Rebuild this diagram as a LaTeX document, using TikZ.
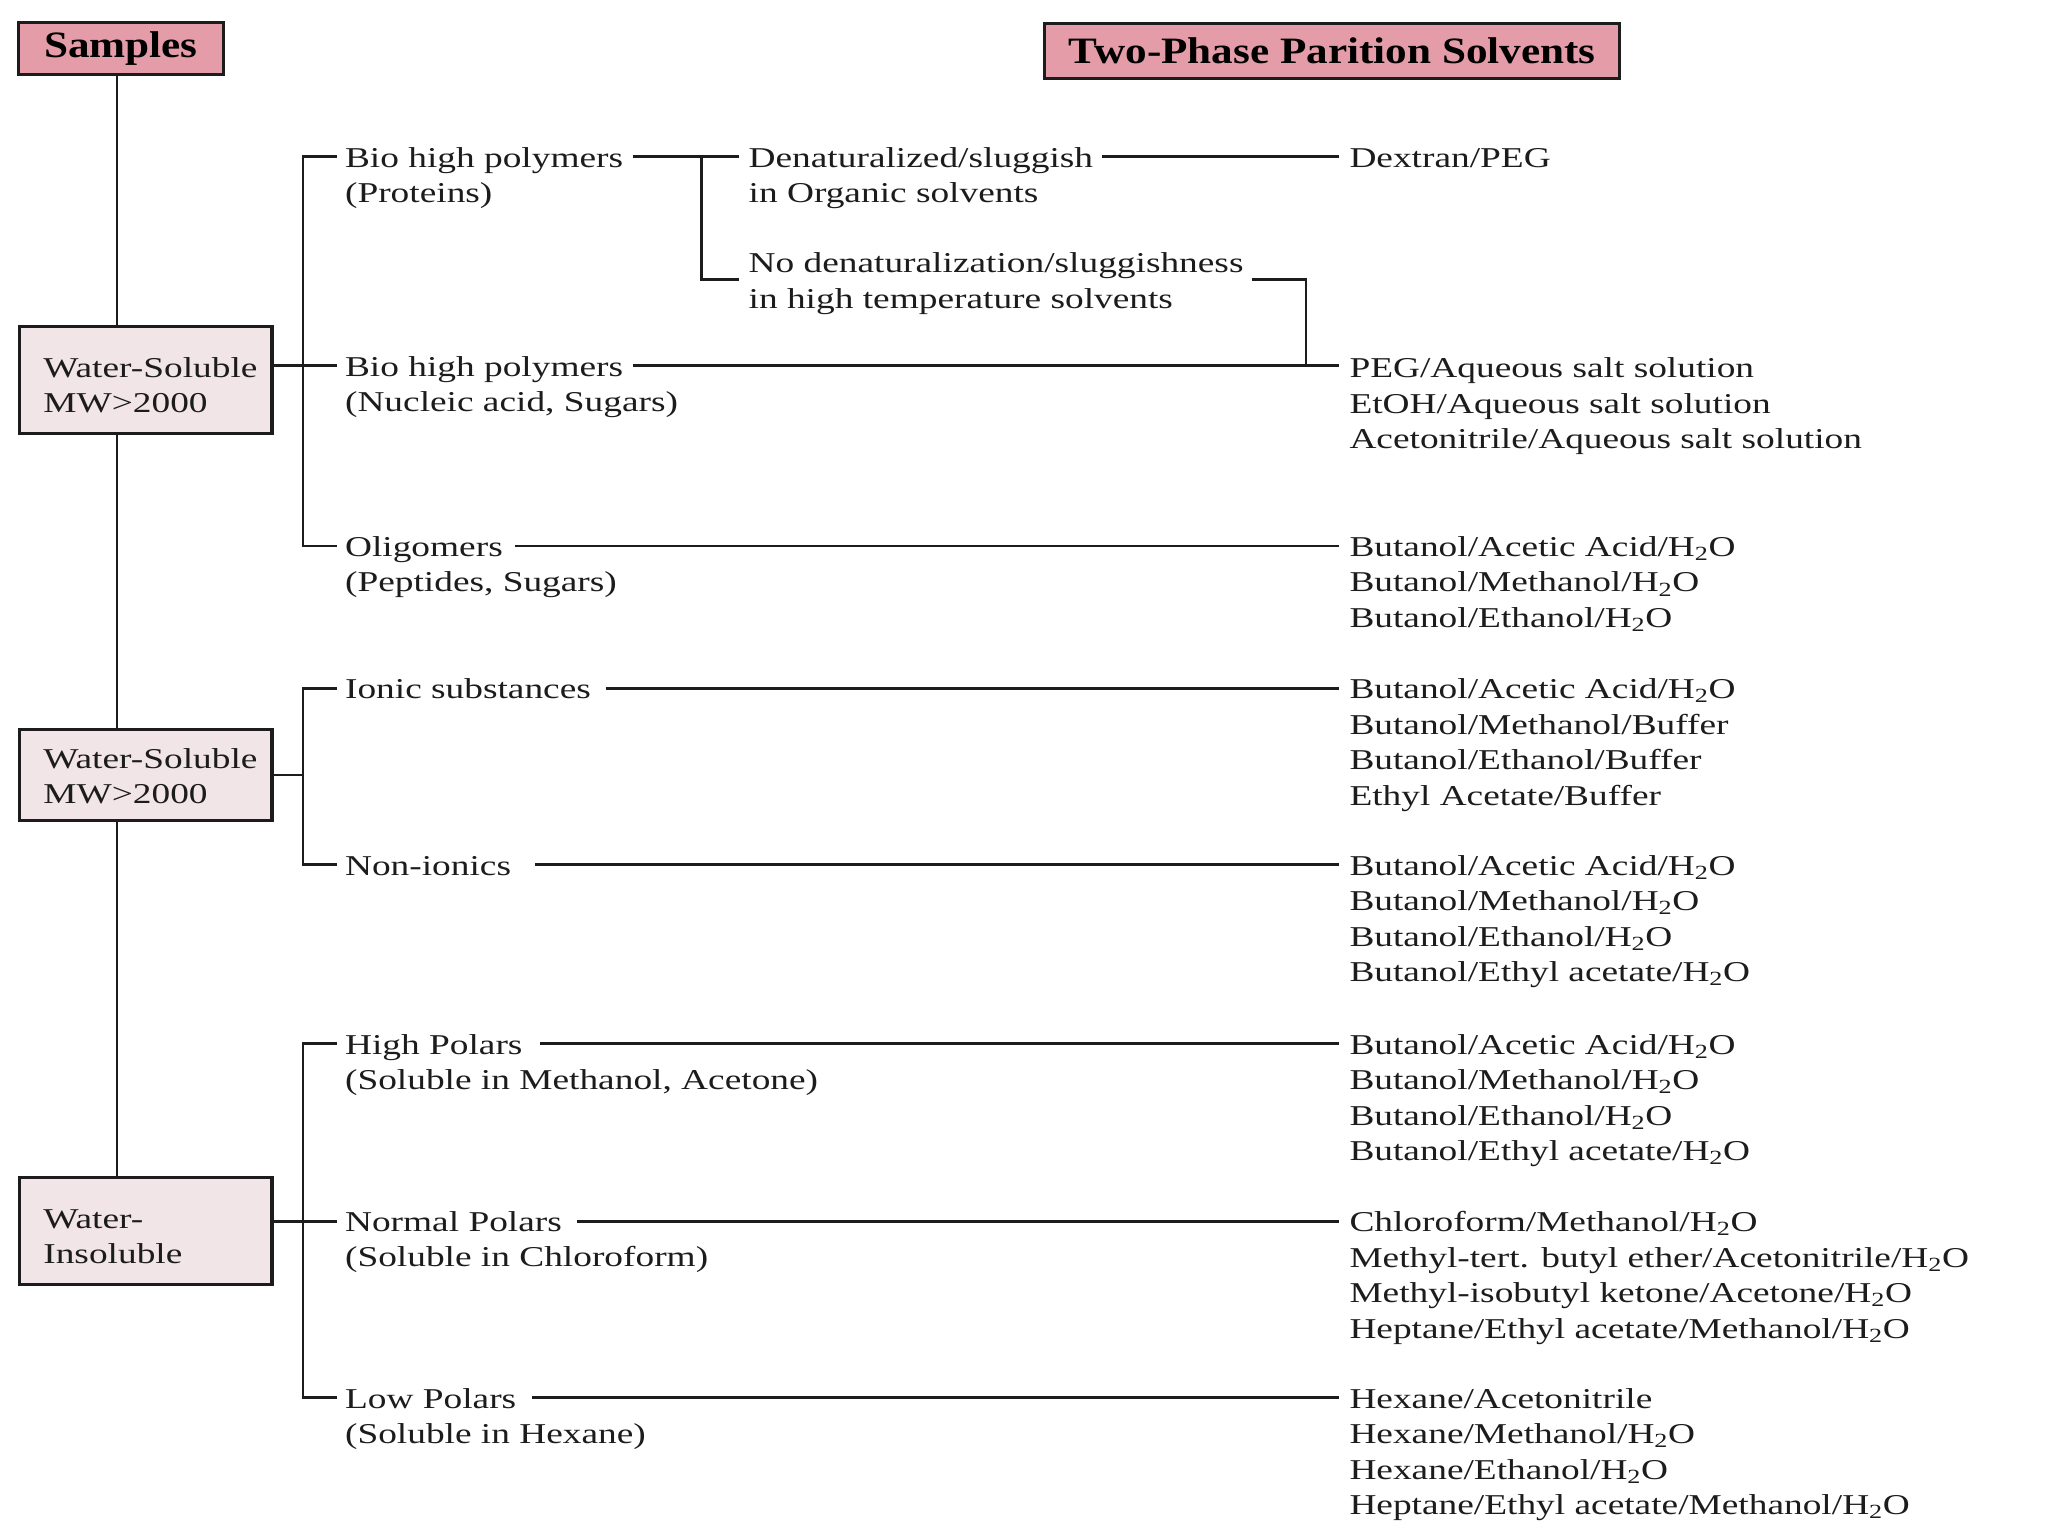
\documentclass[tikz,border=0pt]{standalone}
\usepackage{fontspec}
\setmainfont{Liberation Serif}[FakeStretch=1.3]
\newfontfamily\hdfont{Liberation Serif}[FakeStretch=1.16]
\newcommand\HtwoO{H\textsubscript{2}O}
\newcommand\rcol[1]{\begin{tabular}[t]{@{}l@{}}#1\end{tabular}}
\newcommand\bxtxt[1]{\makebox[193pt][l]{\hspace{18pt}\begin{tabular}[t]{@{}l@{}}#1\end{tabular}}}
\definecolor{hdpink}{RGB}{228,156,168}
\definecolor{boxpink}{RGB}{241,229,232}
\definecolor{inkc}{RGB}{28,28,28}
\begin{document}
\begin{tikzpicture}[x=1pt,y=-1pt,
  txt/.style={anchor=base west, inner sep=0pt, text=inkc, font=\fontsize{22}{27.2}\selectfont},
  hdbox/.style={draw=inkc, line width=2.4pt, fill=hdpink, inner sep=0pt, text=black,
    font=\hdfont\bfseries\fontsize{28.5}{30}\selectfont},
  wbox/.style={draw=inkc, line width=2.4pt, fill=boxpink, anchor=north west,
    minimum width=193pt, inner xsep=0pt, inner ysep=0pt, text height=20pt, text=inkc,
    font=\fontsize{22}{26.8}\selectfont},
  conn/.style={line width=2pt, draw=inkc}]
\fill[white] (0,0) rectangle (1568,1176);
\useasboundingbox (0,0) rectangle (1568,1176);

% header boxes
\node[hdbox, minimum width=157pt, minimum height=40pt] (samples) at (92.5,37) {Samples};
\node[hdbox, minimum width=440pt, minimum height=42pt] (solv) at (1020,39) {Two-Phase Parition Solvents};

% category boxes
\node[wbox, minimum height=82pt, text depth=24pt] (ws1) at (14,249) {\bxtxt{Water-Soluble\\MW>2000}};
\node[wbox, minimum height=70pt, text depth=29pt] (ws2) at (14,557) {\bxtxt{Water-Soluble\\MW>2000}};
\node[wbox, minimum height=82pt, text depth=23pt] (wi) at (14,900) {\bxtxt{Water-\\Insoluble}};

% spine
\coordinate (spx) at (89.5,0);
\draw[conn] (samples.south -| spx) -- (ws1.north -| spx);
\draw[conn] (ws1.south -| spx) -- (ws2.north -| spx);
\draw[conn] (ws2.south -| spx) -- (wi.north -| spx);

% sample labels
\node[txt] (bioA) at (264,128) {Bio high polymers};
\node[txt] (bioA2) at (264,155) {(Proteins)};
\node[txt] (den) at (573,128) {Denaturalized/sluggish};
\node[txt] (den2) at (573,155) {in Organic solvents};
\node[txt] (noden) at (573,209) {No denaturalization/sluggishness};
\node[txt] (noden2) at (573,236) {in high temperature solvents};
\node[txt] (bioB) at (264,288) {Bio high polymers};
\node[txt] (bioB2) at (264,315) {(Nucleic acid, Sugars)};
\node[txt] (olig) at (264,426) {Oligomers};
\node[txt] (olig2) at (264,453) {(Peptides, Sugars)};
\node[txt] (ionic) at (264,535) {Ionic substances};
\node[txt] (nonion) at (264,670) {Non-ionics};
\node[txt] (high) at (264,807) {High Polars};
\node[txt] (high2) at (264,834) {(Soluble in Methanol, Acetone)};
\node[txt] (normal) at (264,943) {Normal Polars};
\node[txt] (normal2) at (264,970) {(Soluble in Chloroform)};
\node[txt] (low) at (264,1078) {Low Polars};
\node[txt] (low2) at (264,1105) {(Soluble in Hexane)};

% solvent lists
\node[txt] (dex) at (1033,128) {Dextran/PEG};
\node[txt] (peg) at (1033,289) {\rcol{PEG/Aqueous salt solution\\EtOH/Aqueous salt solution\\Acetonitrile/Aqueous salt solution}};
\node[txt] (sv1) at (1033,426) {\rcol{Butanol/Acetic Acid/\HtwoO\\Butanol/Methanol/\HtwoO\\Butanol/Ethanol/\HtwoO}};
\node[txt] (sv2) at (1033,535) {\rcol{Butanol/Acetic Acid/\HtwoO\\Butanol/Methanol/Buffer\\Butanol/Ethanol/Buffer\\Ethyl Acetate/Buffer}};
\node[txt] (sv3) at (1033,670) {\rcol{Butanol/Acetic Acid/\HtwoO\\Butanol/Methanol/\HtwoO\\Butanol/Ethanol/\HtwoO\\Butanol/Ethyl acetate/\HtwoO}};
\node[txt] (sv4) at (1033,807) {\rcol{Butanol/Acetic Acid/\HtwoO\\Butanol/Methanol/\HtwoO\\Butanol/Ethanol/\HtwoO\\Butanol/Ethyl acetate/\HtwoO}};
\node[txt] (sv5) at (1033,943) {\rcol{Chloroform/Methanol/\HtwoO\\Methyl-tert. butyl ether/Acetonitrile/\HtwoO\\Methyl-isobutyl ketone/Acetone/\HtwoO\\Heptane/Ethyl acetate/Methanol/\HtwoO}};
\node[txt] (sv6) at (1033,1078) {\rcol{Hexane/Acetonitrile\\Hexane/Methanol/\HtwoO\\Hexane/Ethanol/\HtwoO\\Heptane/Ethyl acetate/Methanol/\HtwoO}};

% connector end points
\coordinate (bioBL) at ([xshift=-6pt,yshift=8pt]bioB.base west);
\coordinate (ionL) at ([xshift=-6pt,yshift=8pt]ionic.base west);
\coordinate (nonL) at ([xshift=-6pt,yshift=8pt]nonion.base west);
\coordinate (brk) at ([xshift=-32pt]ionic.base west);
\coordinate (normL) at ([xshift=-6pt,yshift=8pt]normal.base west);

% protein branch
\draw[conn] ([xshift=7pt,yshift=8pt]bioA.base east) -- ([xshift=-7pt,yshift=8pt]den.base west);
\draw[conn] ([xshift=-36pt,yshift=8pt]den.base west) |- ([xshift=-7pt,yshift=-5pt]noden.base west);
\draw[conn] ([xshift=7pt,yshift=8pt]den.base east) -- ([xshift=-8pt,yshift=8pt]dex.base west);
\draw[conn] ([xshift=6pt,yshift=-5pt]noden.base east) -| ([xshift=-33pt,yshift=8pt]bioB.base west -| peg.base west);

% bracket 1
\draw[conn] ([xshift=-6pt,yshift=8pt]bioA.base west) -| ([xshift=-32pt,yshift=8pt]olig.base west) -- ([xshift=-6pt,yshift=8pt]olig.base west);
\draw[conn] (ws1.east |- bioBL) -- (bioBL);
\draw[conn] ([xshift=7pt,yshift=8pt]bioB.base east) -- ([xshift=-8pt,yshift=8pt]bioB.base east -| peg.base west);
\draw[conn] ([xshift=9pt,yshift=8pt]olig.base east) -- ([xshift=-8pt,yshift=8pt]sv1.base west);

% bracket 2
\draw[conn] (ionL) -| ([xshift=-32pt,yshift=8pt]nonion.base west) -- (nonL);
\draw[conn] (ws2.east) -- (ws2.east -| brk);
\draw[conn] ([xshift=11pt,yshift=8pt]ionic.base east) -- ([xshift=-8pt,yshift=8pt]sv2.base west);
\draw[conn] ([xshift=18pt,yshift=8pt]nonion.base east) -- ([xshift=-8pt,yshift=8pt]sv3.base west);

% bracket 3
\draw[conn] ([xshift=-6pt,yshift=8pt]high.base west) -| ([xshift=-32pt,yshift=8pt]low.base west) -- ([xshift=-6pt,yshift=8pt]low.base west);
\draw[conn] (wi.east |- normL) -- (normL);
\draw[conn] ([xshift=13pt,yshift=8pt]high.base east) -- ([xshift=-8pt,yshift=8pt]sv4.base west);
\draw[conn] ([xshift=11pt,yshift=8pt]normal.base east) -- ([xshift=-8pt,yshift=8pt]sv5.base west);
\draw[conn] ([xshift=12pt,yshift=8pt]low.base east) -- ([xshift=-8pt,yshift=8pt]sv6.base west);
\end{tikzpicture}
\end{document}
